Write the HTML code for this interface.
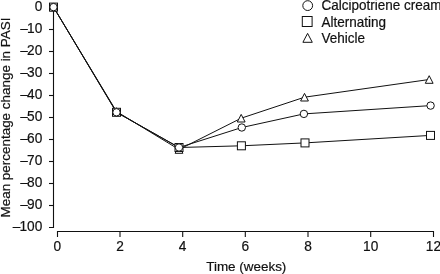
<!DOCTYPE html>
<html><head><meta charset="utf-8"><style>
html,body{margin:0;padding:0;background:#fff;overflow:hidden;}
svg{display:block;}
text{font-family:"Liberation Sans", Arial, Helvetica, sans-serif;fill:#111;stroke:#111;stroke-width:0.2px;}
</style></head><body>
<svg width="440" height="274" viewBox="0 0 440 274">
<path d="M53.5 7 V227.5 H49" fill="none" stroke="#111" stroke-width="1.1"/>
<path d="M49 29.5 H53.5" stroke="#111" stroke-width="1.1"/>
<path d="M49 51.5 H53.5" stroke="#111" stroke-width="1.1"/>
<path d="M49 73.5 H53.5" stroke="#111" stroke-width="1.1"/>
<path d="M49 95.5 H53.5" stroke="#111" stroke-width="1.1"/>
<path d="M49 117.5 H53.5" stroke="#111" stroke-width="1.1"/>
<path d="M49 139.5 H53.5" stroke="#111" stroke-width="1.1"/>
<path d="M49 161.5 H53.5" stroke="#111" stroke-width="1.1"/>
<path d="M49 183.5 H53.5" stroke="#111" stroke-width="1.1"/>
<path d="M49 205.5 H53.5" stroke="#111" stroke-width="1.1"/>
<path d="M57.5 237 V231.5 H433.5 V237" fill="none" stroke="#111" stroke-width="1.1"/>
<path d="M120.0 231.5 V237" stroke="#111" stroke-width="1.1"/>
<path d="M182.7 231.5 V237" stroke="#111" stroke-width="1.1"/>
<path d="M245.3 231.5 V237" stroke="#111" stroke-width="1.1"/>
<path d="M308.0 231.5 V237" stroke="#111" stroke-width="1.1"/>
<path d="M370.7 231.5 V237" stroke="#111" stroke-width="1.1"/>
<text transform="translate(42.30 11.30) scale(1 1.03)" font-size="13.7" text-anchor="end">0</text>
<text transform="translate(42.30 33.30) scale(1 1.03)" font-size="13.7" text-anchor="end">–<tspan dx="-0.8">10</tspan></text>
<text transform="translate(42.30 55.30) scale(1 1.03)" font-size="13.7" text-anchor="end">–<tspan dx="-0.8">20</tspan></text>
<text transform="translate(42.30 77.30) scale(1 1.03)" font-size="13.7" text-anchor="end">–<tspan dx="-0.8">30</tspan></text>
<text transform="translate(42.30 99.30) scale(1 1.03)" font-size="13.7" text-anchor="end">–<tspan dx="-0.8">40</tspan></text>
<text transform="translate(42.30 121.30) scale(1 1.03)" font-size="13.7" text-anchor="end">–<tspan dx="-0.8">50</tspan></text>
<text transform="translate(42.30 143.30) scale(1 1.03)" font-size="13.7" text-anchor="end">–<tspan dx="-0.8">60</tspan></text>
<text transform="translate(42.30 165.30) scale(1 1.03)" font-size="13.7" text-anchor="end">–<tspan dx="-0.8">70</tspan></text>
<text transform="translate(42.30 187.30) scale(1 1.03)" font-size="13.7" text-anchor="end">–<tspan dx="-0.8">80</tspan></text>
<text transform="translate(42.30 209.30) scale(1 1.03)" font-size="13.7" text-anchor="end">–<tspan dx="-0.8">90</tspan></text>
<text transform="translate(42.30 231.30) scale(1 1.03)" font-size="13.7" text-anchor="end">–<tspan dx="-0.8">100</tspan></text>
<text transform="translate(57.30 251.00) scale(1 1.03)" font-size="13.7" text-anchor="middle">0</text>
<text transform="translate(119.98 251.00) scale(1 1.03)" font-size="13.7" text-anchor="middle">2</text>
<text transform="translate(182.66 251.00) scale(1 1.03)" font-size="13.7" text-anchor="middle">4</text>
<text transform="translate(245.34 251.00) scale(1 1.03)" font-size="13.7" text-anchor="middle">6</text>
<text transform="translate(308.02 251.00) scale(1 1.03)" font-size="13.7" text-anchor="middle">8</text>
<text transform="translate(370.70 251.00) scale(1 1.03)" font-size="13.7" text-anchor="middle">10</text>
<text transform="translate(433.38 251.00) scale(1 1.03)" font-size="13.7" text-anchor="middle">12</text>
<text transform="translate(206.20 270.70) scale(1 1.0)" font-size="13.45">Time (weeks)</text>
<text transform="translate(9.50 217.50) rotate(-90) scale(1 1.0)" font-size="13.45">Mean percentage change in PASI</text>
<polyline points="53.5,7.1 116.5,111.5 179.0,149.5 241.2,118.2 304.5,97.2 429.2,79.5" fill="none" stroke="#111" stroke-width="1.0"/>
<polyline points="53.5,7.1 116.5,112.3 179.0,147.5 241.8,127.5 303.9,113.9 430.6,105.6" fill="none" stroke="#111" stroke-width="1.0"/>
<polyline points="53.5,7.1 116.5,112.3 179.0,147.5 241.4,145.8 305.0,142.9 430.5,135.4" fill="none" stroke="#111" stroke-width="1.0"/>
<path d="M53.5 3.3 L57.4 10.9 L49.6 10.9 Z" fill="#fff" stroke="#111" stroke-width="1.0"/>
<path d="M116.5 107.7 L120.4 115.3 L112.6 115.3 Z" fill="#fff" stroke="#111" stroke-width="1.0"/>
<path d="M179.0 145.7 L182.9 153.3 L175.1 153.3 Z" fill="#fff" stroke="#111" stroke-width="1.0"/>
<path d="M241.2 114.4 L245.1 122.0 L237.3 122.0 Z" fill="#fff" stroke="#111" stroke-width="1.0"/>
<path d="M304.5 93.4 L308.4 101.0 L300.6 101.0 Z" fill="#fff" stroke="#111" stroke-width="1.0"/>
<path d="M429.2 75.7 L433.1 83.3 L425.3 83.3 Z" fill="#fff" stroke="#111" stroke-width="1.0"/>
<rect x="49.5" y="3.1" width="8" height="8" fill="#fff" stroke="#111" stroke-width="1.0"/>
<rect x="112.5" y="108.3" width="8" height="8" fill="#fff" stroke="#111" stroke-width="1.0"/>
<rect x="175.0" y="143.5" width="8" height="8" fill="#fff" stroke="#111" stroke-width="1.0"/>
<rect x="237.4" y="141.8" width="8" height="8" fill="#fff" stroke="#111" stroke-width="1.0"/>
<rect x="301.0" y="138.9" width="8" height="8" fill="#fff" stroke="#111" stroke-width="1.0"/>
<rect x="426.5" y="131.4" width="8" height="8" fill="#fff" stroke="#111" stroke-width="1.0"/>
<circle cx="53.5" cy="7.1" r="3.7" fill="#fff" stroke="#111" stroke-width="1.0"/>
<circle cx="116.5" cy="112.3" r="3.7" fill="#fff" stroke="#111" stroke-width="1.0"/>
<circle cx="179.0" cy="147.5" r="3.7" fill="#fff" stroke="#111" stroke-width="1.0"/>
<circle cx="241.8" cy="127.5" r="3.7" fill="#fff" stroke="#111" stroke-width="1.0"/>
<circle cx="303.9" cy="113.9" r="3.7" fill="#fff" stroke="#111" stroke-width="1.0"/>
<circle cx="430.6" cy="105.6" r="3.7" fill="#fff" stroke="#111" stroke-width="1.0"/>
<circle cx="307.7" cy="5.6" r="4.9" fill="#fff" stroke="#111" stroke-width="1.0"/>
<rect x="302.3" y="16.5" width="9.8" height="10" fill="#fff" stroke="#111" stroke-width="1.0"/>
<path d="M307.6 33.4 L312.3 42.3 L302.9 42.3 Z" fill="#fff" stroke="#111" stroke-width="1.0"/>
<text transform="translate(321.50 9.60) scale(1 1.03)" font-size="13.5">Calcipotriene cream</text>
<text transform="translate(321.50 26.70) scale(1 1.03)" font-size="13.5">Alternating</text>
<text transform="translate(321.50 43.00) scale(1 1.03)" font-size="13.5">Vehicle</text>
</svg>
</body></html>
